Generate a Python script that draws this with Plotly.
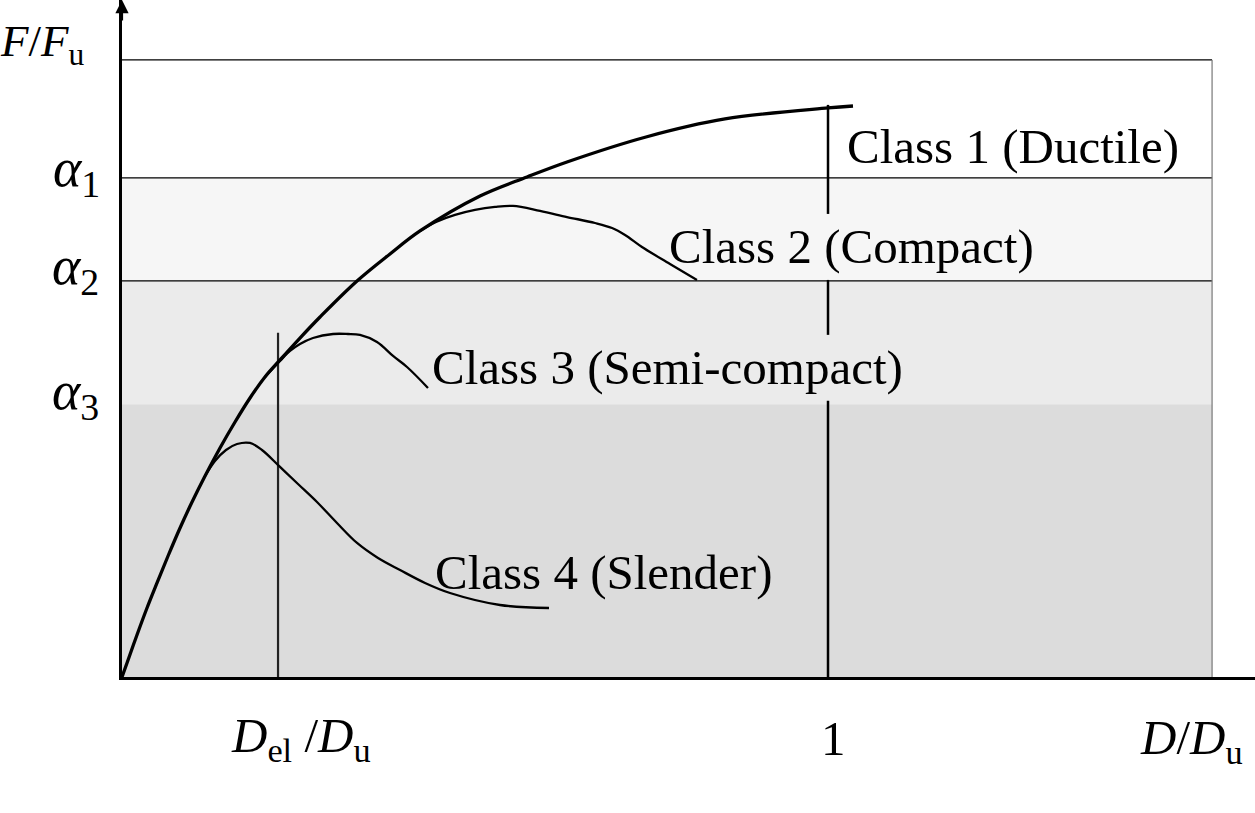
import plotly.graph_objects as go
import numpy as np

# ---------------- data ----------------
# Class 1 (ductile) main curve, D/Du vs F/Fu
x_main = [0.0, 0.0071, 0.0212, 0.0354, 0.0496, 0.0652, 0.0822, 0.0992, 0.1176, 0.1388,
          0.1601, 0.1813, 0.2025, 0.2238, 0.2521, 0.2805, 0.3329, 0.3796, 0.4221, 0.5071,
          0.5737, 0.6303, 0.7422, 0.8541, 1.0, 1.0354]
y_main = [0.0, 0.0227, 0.0681, 0.1118, 0.1524, 0.1961, 0.2415, 0.2836, 0.3258, 0.3712,
          0.4133, 0.4522, 0.4862, 0.5138, 0.5494, 0.5835, 0.6418, 0.6856, 0.7229, 0.7796,
          0.8104, 0.8347, 0.8752, 0.9044, 0.9222, 0.9254]

# Class 2 (compact)
x_c2 = [0.4221, 0.4448, 0.4717, 0.5, 0.5283, 0.5538, 0.5921, 0.6303, 0.6700, 0.6941,
        0.7125, 0.7365, 0.7762, 0.8144]
y_c2 = [0.7229, 0.7374, 0.7488, 0.7569, 0.7618, 0.7634, 0.7553, 0.7455, 0.7358, 0.7277,
        0.7164, 0.6969, 0.6694, 0.6434]

# Class 3 (semi-compact)
x_c3 = [0.2025, 0.2238, 0.2380, 0.2521, 0.2705, 0.2989, 0.3201, 0.3371, 0.3612, 0.3839,
        0.4037, 0.4334]
y_c3 = [0.4862, 0.5122, 0.5284, 0.5397, 0.5494, 0.5559, 0.5559, 0.5543, 0.5429, 0.5203,
        0.5024, 0.4684]

# Class 4 (slender)
x_c4 = [0.1176, 0.1317, 0.1473, 0.1629, 0.1813, 0.1983, 0.2238, 0.2493, 0.2762, 0.3045,
        0.3329, 0.3626, 0.3938, 0.4292, 0.4646, 0.5354, 0.6048]
y_c4 = [0.3258, 0.3501, 0.3679, 0.3776, 0.3793, 0.3679, 0.3404, 0.3128, 0.2836, 0.2496,
        0.2172, 0.1929, 0.1734, 0.1524, 0.1361, 0.1167, 0.1118]

# Levels and markers
alpha_levels = [0.809, 0.642, 0.442]          # alpha1, alpha2, alpha3
ultimate_level = 1.0                          # F/Fu = 1
d_el = 0.221                                  # Del/Du
d_u = 1.0                                     # D/Du = 1
d_el_line_top = 0.558
x_edge = 1.544                                # right edge of the class bands

# Tick labels
y_tick_vals = [1.0, 0.809, 0.642, 0.442]
y_tick_text = ["<i>F</i>/<i>F</i><sub>u</sub>", "<i>α</i><sub>1</sub>",
               "<i>α</i><sub>2</sub>", "<i>α</i><sub>3</sub>"]
x_tick_vals = [0.221, 1.0]
x_tick_text = ["<i>D</i><sub>el</sub> /<i>D</i><sub>u</sub>", "1"]
x_title = "<i>D</i>/<i>D</i><sub>u</sub>"

# Class labels
class_labels = ["Class 1 (Ductile)", "Class 2 (Compact)",
                "Class 3 (Semi-compact)", "Class 4 (Slender)"]
class_label_x = [1.024, 0.772, 0.436, 0.44]
class_label_y = [0.859, 0.697, 0.501, 0.170]

# ---------------- styles ----------------
FONT = "Liberation Serif"
X_MAX = 1.6048
Y_MAX = 1.0972
PLOT_H_PX = 677
band_colors = ["#f6f6f6", "#ebebeb", "#dcdcdc"]
y_label_sizes = [45, 54, 54, 54]
y_label_xshift = [-35, -20, -21, -21]
y_label_yshift = [16, 6, 11, 10]
x_shift_px = [23, 5]

fig = go.Figure()

# class bands
band_edges = [alpha_levels[0], alpha_levels[1], alpha_levels[2], 0.0]
for i in range(3):
    fig.add_shape(type="rect", xref="x", yref="y", x0=0, x1=x_edge,
                  y0=band_edges[i + 1], y1=band_edges[i],
                  fillcolor=band_colors[i], line=dict(width=0), layer="below")

# horizontal level lines
for lvl in [ultimate_level, alpha_levels[0], alpha_levels[1]]:
    fig.add_shape(type="line", xref="x", yref="y", x0=0, x1=x_edge, y0=lvl, y1=lvl,
                  line=dict(color="black", width=1.3), layer="below")
# right border of the bands
fig.add_shape(type="line", xref="x", yref="y", x0=x_edge, x1=x_edge, y0=0, y1=ultimate_level,
              line=dict(color="#777777", width=1.2), layer="below")

# vertical marker lines
fig.add_trace(go.Scatter(x=[d_el, d_el], y=[0, d_el_line_top], mode="lines",
                         line=dict(color="#222222", width=2.2), showlegend=False,
                         hoverinfo="skip"))
# D/Du = 1 line, interrupted behind the class 2 and class 3 labels
gap_h = 33 / PLOT_H_PX * Y_MAX
top_u = float(np.interp(d_u, x_main, y_main)) + 0.005
c2y, c3y = class_label_y[1], class_label_y[2]
vy = [0, c3y - gap_h, None, c3y + gap_h, c2y - gap_h, None, c2y + gap_h, top_u]
vx = [d_u if v is not None else None for v in vy]
fig.add_trace(go.Scatter(x=vx, y=vy, mode="lines", connectgaps=False,
                         line=dict(color="black", width=2.5), showlegend=False,
                         hoverinfo="skip"))

# curves
for xs, ys, w in [(x_c4, y_c4, 2.3), (x_c3, y_c3, 2.3), (x_c2, y_c2, 2.3), (x_main, y_main, 3.3)]:
    fig.add_trace(go.Scatter(x=xs, y=ys, mode="lines",
                             line=dict(color="black", width=w, shape="spline", smoothing=1.0),
                             showlegend=False, hoverinfo="skip"))

annotations = []
# class labels
for txt, xv, yv in zip(class_labels, class_label_x, class_label_y):
    annotations.append(dict(x=xv, y=yv, xref="x", yref="y", text=txt, showarrow=False,
                            xanchor="left", yanchor="middle",
                            font=dict(family=FONT, size=49, color="black")))
# y labels
for v, t, sz, xs, ys in zip(y_tick_vals, y_tick_text, y_label_sizes, y_label_xshift, y_label_yshift):
    annotations.append(dict(x=0, y=v, xref="x", yref="y", text=t, showarrow=False,
                            xanchor="right", yanchor="middle", xshift=xs, yshift=ys,
                            font=dict(family=FONT, size=sz, color="black")))
# x labels
for v, t, s in zip(x_tick_vals, x_tick_text, x_shift_px):
    annotations.append(dict(x=v, y=-61 / PLOT_H_PX, xref="x", yref="paper", text=t,
                            showarrow=False, xanchor="center", yanchor="middle", xshift=s,
                            font=dict(family=FONT, size=49, color="black")))
annotations.append(dict(x=1, y=-63 / PLOT_H_PX, xref="paper", yref="paper", text=x_title,
                        showarrow=False, xanchor="right", yanchor="middle", xshift=-10,
                        font=dict(family=FONT, size=49, color="black")))
# arrow head of the vertical axis
annotations.append(dict(x=0, y=Y_MAX, xref="x", yref="y", ax=0, ay=22, text="",
                        showarrow=True, arrowhead=2, arrowsize=1.2, arrowwidth=2.2,
                        arrowcolor="black"))

fig.update_layout(
    width=1255, height=813,
    margin=dict(l=122, r=0, t=0, b=136),
    paper_bgcolor="white", plot_bgcolor="white",
    annotations=annotations,
    xaxis=dict(range=[0, X_MAX], showgrid=False, zeroline=False, showticklabels=False,
               ticks="", showline=True, linecolor="black", linewidth=3),
    yaxis=dict(range=[0, Y_MAX], showgrid=False, zeroline=False, showticklabels=False,
               ticks="", showline=True, linecolor="black", linewidth=3),
)

fig.write_html("out.html", config={"displayModeBar": False},
               post_script="document.body.style.margin='0';")
